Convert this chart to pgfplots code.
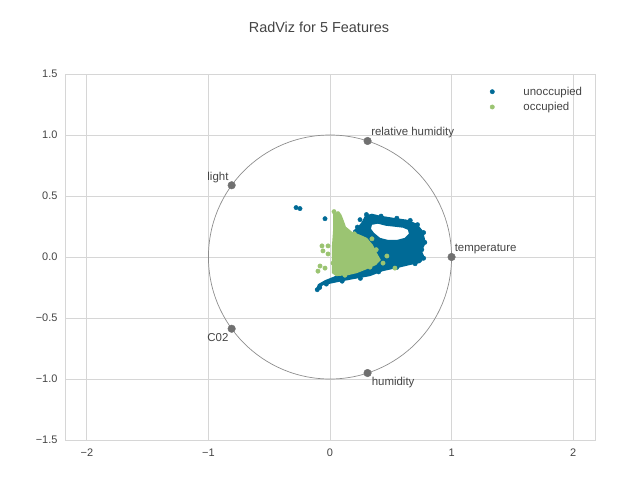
\documentclass[border=0pt]{standalone}
\usepackage{fontspec}
\setmainfont{Liberation Sans}
\usepackage{pgfplots}
\pgfplotsset{compat=1.18}
\definecolor{unocc}{RGB}{0,106,150}
\definecolor{occ}{RGB}{155,196,114}
\definecolor{gridc}{RGB}{214,214,214}
\definecolor{txt}{RGB}{68,68,68}
\definecolor{anch}{RGB}{112,112,112}
\pgfplotsset{
  dotleg/.style={legend image code/.code={\path (0bp,0bp) (34bp,0bp); \draw[mark repeat=2,mark phase=2,##1] plot coordinates {(0bp,0bp)(5bp,0bp)(34bp,0bp)};}},
}
\begin{document}
\begin{tikzpicture}
\useasboundingbox (0,0) rectangle (638bp,478bp);
\node[font=\fontsize{14.5}{17}\selectfont, text=txt] at (319bp,451bp) {RadViz for 5 Features};
\begin{axis}[
  at={(65bp,38bp)}, anchor=south west,
  width=530bp, height=366bp, scale only axis,
  xmin=-2.18, xmax=2.18, ymin=-1.5, ymax=1.5,
  xtick={-2,-1,0,1,2},
  xticklabels={−2,−1,0,1,2},
  ytick={-1.5,-1,-0.5,0,0.5,1,1.5},
  yticklabels={−1.5,−1.0,−0.5,0.0,0.5,1.0,1.5},
  major tick length=0pt,
  grid=major,
  grid style={gridc, line width=0.9bp},
  axis line style={gridc, line width=0.9bp},
  tick label style={font=\fontsize{11}{13}\selectfont, text=txt},
  xticklabel style={yshift=-5bp},
  yticklabel style={xshift=-4bp},
  legend style={draw=none, fill=none, at={(0.796,0.971)}, anchor=north west,
    font=\fontsize{11.5}{13}\selectfont, text=txt, inner sep=0pt, row sep=1.5bp},
  legend cell align=left,
]
% unit circle
\draw[anch!80, line width=0.7bp] (axis cs:0,0) ellipse [x radius=1, y radius=1];

% unoccupied: dense body (outer outline, then the hole)
\addplot[fill=unocc, draw=none, even odd rule, forget plot, empty line=jump] table {
x y
-0.115 -0.264
-0.099 -0.223
-0.041 -0.190
0.041 -0.157
0.123 -0.132
0.205 -0.116
0.288 -0.099
0.329 -0.050
0.288 0.091
0.205 0.157
0.189 0.215
0.230 0.248
0.263 0.289
0.288 0.339
0.345 0.355
0.411 0.339
0.518 0.322
0.633 0.306
0.715 0.273
0.764 0.215
0.789 0.116
0.756 0.050
0.781 -0.008
0.740 -0.050
0.657 -0.066
0.551 -0.091
0.435 -0.116
0.329 -0.157
0.189 -0.182
0.058 -0.207
-0.058 -0.231
-0.099 -0.273

0.345 0.264
0.394 0.273
0.460 0.256
0.534 0.248
0.600 0.240
0.641 0.223
0.649 0.190
0.616 0.157
0.551 0.140
0.477 0.140
0.411 0.157
0.362 0.198
0.337 0.231
};
\addplot[only marks, mark=*, mark size=2.2bp, unocc, dotleg] coordinates {
(-0.279,0.405) (-0.247,0.397) (-0.041,0.314) (0.247,0.306)
(-0.105,-0.268) (-0.085,-0.250) (-0.030,-0.222)
(0.100,-0.198) (0.250,-0.175) (0.400,-0.122) (0.550,-0.085) (0.700,-0.055)
(0.770,-0.010) (0.755,0.060) (0.780,0.120) (0.770,0.200) (0.720,0.265)
(0.300,0.348) (0.420,0.335) (0.550,0.318) (0.660,0.300) (0.225,0.245)
};
\addlegendentry{unoccupied}

% occupied
\addplot[fill=occ, draw=none, forget plot] coordinates {
(0.025,0.364) (0.090,0.355) (0.107,0.314) (0.131,0.248) (0.181,0.207)
(0.247,0.182) (0.304,0.157) (0.353,0.099) (0.386,0.033) (0.419,-0.025)
(0.378,-0.066) (0.304,-0.099) (0.222,-0.132) (0.148,-0.149) (0.049,-0.157)
(0.016,-0.132) (0.016,-0.033) (0.016,0.091) (0.025,0.215) (0.025,0.298)
} -- cycle;
\addplot[only marks, mark=*, mark size=2.2bp, occ, dotleg] coordinates {
(-0.066,0.091) (-0.016,0.091) (-0.058,0.050) (-0.016,0.025)
(-0.082,-0.074) (-0.041,-0.091) (-0.099,-0.116)
(0.033,0.372) (0.066,0.355) (0.345,0.149) (0.468,0.008)
(0.436,-0.050) (0.534,-0.091) (0.380,0.060)
(0.025,-0.050) (0.123,-0.149) (0.329,-0.083) (0.200,0.190)
};
\addlegendentry{occupied}

% feature anchors
\addplot[only marks, mark=*, mark size=3.8bp, anch, forget plot] coordinates {
(1,0) (0.309,0.951) (-0.809,0.588) (-0.809,-0.588) (0.309,-0.951)
};
\begin{scope}[font=\fontsize{11.5}{13}\selectfont, text=txt, inner sep=0pt]
\node[anchor=base west, xshift=3bp, yshift=5bp] at (axis cs:1,0) {temperature};
\node[anchor=base west, xshift=3.5bp, yshift=5bp] at (axis cs:0.309,0.951) {relative humidity};
\node[anchor=base east, xshift=-3bp, yshift=5bp] at (axis cs:-0.809,0.588) {light};
\node[anchor=base east, xshift=-3bp, yshift=-13bp] at (axis cs:-0.809,-0.588) {C02};
\node[anchor=base west, xshift=4bp, yshift=-12bp] at (axis cs:0.309,-0.951) {humidity};
\end{scope}
\end{axis}
\end{tikzpicture}
\end{document}
